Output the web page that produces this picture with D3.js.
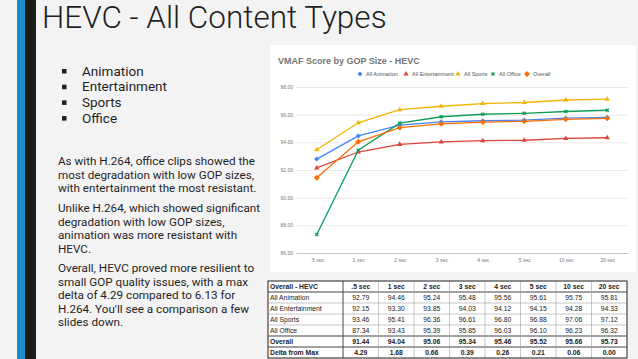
<html>
<head>
<meta charset="utf-8">
<script src="https://d3js.org/d3.v7.min.js"></script>
<style>
  body { margin: 0; background: #f3f3f3; }
  svg { display: block; }
  .slide { font-family: Roboto, "Open Sans", sans-serif; fill: #1f1f1f; }
  .chart text { font-family: Arial, "Liberation Sans", sans-serif; }
  .tbl text { font-family: Arial, "Liberation Sans", sans-serif; fill: #222; }
</style>
</head>
<body>
<svg width="638" height="359"></svg>
<script>
// --- data ---
const periods = ['.5 sec', '1 sec', '2 sec', '3 sec', '4 sec', '5 sec', '10 sec', '20 sec'];
const animation     = [92.79, 94.46, 95.24, 95.48, 95.56, 95.61, 95.75, 95.81];
const entertainment = [92.15, 93.30, 93.85, 94.03, 94.12, 94.15, 94.28, 94.33];
const sports        = [93.46, 95.41, 96.36, 96.61, 96.80, 96.88, 97.06, 97.12];
const office        = [87.34, 93.43, 95.39, 95.85, 96.03, 96.10, 96.23, 96.32];
const overall       = [91.44, 94.04, 95.06, 95.34, 95.46, 95.52, 95.66, 95.73];
const deltaFromMax  = [4.29, 1.68, 0.66, 0.39, 0.26, 0.21, 0.06, 0.00];
const seriesNames = ['All Animation', 'All Entertainment', 'All Sports', 'All Office', 'Overall'];
const yTicks = [86, 88, 90, 92, 94, 96, 98];
const bullets = ['Animation', 'Entertainment', 'Sports', 'Office'];
const paragraphs = [
  ['As with H.264, office clips showed the', 'most degradation with low GOP sizes,', 'with entertainment the most resistant.'],
  ['Unlike H.264, which showed significant', 'degradation with low GOP sizes,', 'animation was more resistant with', 'HEVC.'],
  ['Overall, HEVC proved more resilient to', 'small GOP quality issues, with a max', 'delta of 4.29 compared to 6.13 for', 'H.264. You\'ll see a comparison a few', 'slides down.']
];

// diamonds are squares turned 45 degrees, office marker is a turned cross
const series = [
  {name: seriesNames[0], values: animation, color: '#4285f4', shape: d3.symbolSquare, size: 13, rot: 45},
  {name: seriesNames[1], values: entertainment, color: '#db4437', shape: d3.symbolTriangle, size: 12},
  {name: seriesNames[2], values: sports, color: '#f4b400', shape: d3.symbolTriangle, size: 12},
  {name: seriesNames[3], values: office, color: '#0f9d58', shape: d3.symbolCross, size: 10, rot: 45},
  {name: seriesNames[4], values: overall, color: '#ff6d01', shape: d3.symbolSquare, size: 17, rot: 45}
];

const svg = d3.select('svg');

// slide decoration
svg.append('rect').attr('x', 17).attr('y', 0).attr('width', 8).attr('height', 359).attr('fill', '#1a8ccb');
svg.append('rect').attr('x', 25).attr('y', 0).attr('width', 11).attr('height', 359).attr('fill', '#1c1c17');

const slide = svg.append('g').attr('class', 'slide');
slide.append('text').attr('x', 42).attr('y', 28).style('font-size', '31.5px').style('font-weight', 300)
  .text('HEVC - All Content Types');

const bl = slide.append('g');
bl.selectAll('rect').data(bullets).enter().append('rect')
  .attr('x', 62).attr('y', (d, i) => 69 + i * 15.7).attr('width', 4.5).attr('height', 4.5).attr('fill', '#1f1f1f');
bl.selectAll('text').data(bullets).enter().append('text')
  .attr('x', 82).attr('y', (d, i) => 75.5 + i * 15.7).style('font-size', '13.5px').text(d => d);

const paraTop = [165, 212, 272];
paragraphs.forEach((lines, p) => {
  slide.append('g').selectAll('text').data(lines).enter().append('text')
    .attr('x', 58).attr('y', (d, i) => paraTop[p] + i * 13.6)
    .style('font-size', '11.7px').text(d => d);
});

// --- chart card ---
const chart = svg.append('g').attr('class', 'chart');
chart.append('rect').attr('x', 270).attr('y', 45).attr('width', 366).attr('height', 227).attr('fill', '#ffffff');
chart.append('text').attr('x', 278).attr('y', 63.5).style('font-size', '9px').style('font-weight', 'bold')
  .attr('fill', '#757575').text('VMAF Score by GOP Size - HEVC');

const x = d3.scalePoint().domain(periods).range([296, 628]).padding(0.5);
const y = d3.scaleLinear().domain([86, 98]).range([253, 87]);

const yAxis = chart.append('g').attr('transform', 'translate(296,0)')
  .call(d3.axisLeft(y).tickValues(yTicks).tickSize(-332).tickFormat(d3.format('.2f')));
yAxis.select('.domain').remove();
yAxis.selectAll('line').attr('stroke', '#e3e3e3').attr('stroke-width', 0.8);
yAxis.selectAll('text').attr('x', -3).attr('fill', '#777').style('font-size', '5px');

const xAxis = chart.append('g').attr('transform', 'translate(0,253)')
  .call(d3.axisBottom(x).tickSize(0));
xAxis.select('.domain').attr('stroke', '#bdbdbd').attr('stroke-width', 0.8);
xAxis.selectAll('text').attr('y', 5).attr('fill', '#777').style('font-size', '5px');

const line = d3.line().x((d, i) => x(periods[i])).y(d => y(d));
series.forEach(s => {
  const g = chart.append('g');
  g.append('path').attr('d', line(s.values)).attr('fill', 'none')
    .attr('stroke', s.color).attr('stroke-width', 1.3);
  g.selectAll('path.m').data(s.values).enter().append('path').attr('class', 'm')
    .attr('d', d3.symbol().type(s.shape).size(s.size))
    .attr('transform', (d, i) => `translate(${x(periods[i])},${y(d)}) rotate(${s.rot || 0})`)
    .attr('fill', s.color);
});

// legend
const legendX = [360, 406, 458, 493, 527];
const lg = chart.append('g').selectAll('g').data(series).enter().append('g')
  .attr('transform', (d, i) => `translate(${legendX[i]},74)`);
lg.append('path').attr('d', d => d3.symbol().type(d.shape).size(d.size)())
  .attr('transform', d => `rotate(${d.rot || 0})`).attr('fill', d => d.color);
lg.append('text').attr('x', 6).attr('y', 2).style('font-size', '5.5px').attr('fill', '#555').text(d => d.name);

// --- table ---
const rowLabels = ['Overall - HEVC', 'All Animation', 'All Entertainment', 'All Sports', 'All Office', 'Overall', 'Delta from Max'];
const rowData = [periods, animation, entertainment, sports, office, overall, deltaFromMax];
const boldRows = [0, 5, 6];

const tbl = svg.append('g').attr('class', 'tbl');
const ty = d3.scaleBand().domain(d3.range(rowLabels.length)).range([281, 358]);
const tx = d3.scaleBand().domain(periods).range([343, 627]);
tbl.append('rect').attr('x', 268).attr('y', 281).attr('width', 359).attr('height', 77).attr('fill', '#ffffff');

// thin grid, heavier rules under the header and around the summary rows
tbl.selectAll('line.h').data(d3.range(1, rowLabels.length)).enter().append('line')
  .attr('x1', 268).attr('x2', 627).attr('y1', d => ty(d)).attr('y2', d => ty(d))
  .attr('stroke', d => boldRows.includes(d) || d === 1 ? '#444' : '#a0a0a0')
  .attr('stroke-width', d => boldRows.includes(d) || d === 1 ? 1.2 : 0.6);
tbl.selectAll('line.v').data(periods).enter().append('line')
  .attr('x1', d => tx(d)).attr('x2', d => tx(d)).attr('y1', 281).attr('y2', 358)
  .attr('stroke', (d, i) => i === 0 ? '#444' : '#a0a0a0').attr('stroke-width', (d, i) => i === 0 ? 1 : 0.6);
tbl.append('rect').attr('x', 268).attr('y', 281).attr('width', 359).attr('height', 77)
  .attr('fill', 'none').attr('stroke', '#444').attr('stroke-width', 1.2);

rowLabels.forEach((lab, r) => {
  const bold = boldRows.includes(r);
  tbl.append('text').attr('x', 270).attr('y', ty(r) + ty.bandwidth() / 2 + 2.4)
    .style('font-size', '6.8px').style('font-weight', bold ? 'bold' : 'normal')
    .attr('fill', bold ? '#111' : '#444').text(lab);
  tbl.append('g').selectAll('text').data(rowData[r]).enter().append('text')
    .attr('x', (d, i) => tx(periods[i]) + tx.bandwidth() / 2)
    .attr('y', ty(r) + ty.bandwidth() / 2 + 2.4)
    .attr('text-anchor', 'middle').style('font-size', '6.8px')
    .style('font-weight', bold ? 'bold' : 'normal').attr('fill', bold ? '#111' : '#555')
    .text(d => typeof d === 'number' ? d.toFixed(2) : d);
});
</script>
</body>
</html>
